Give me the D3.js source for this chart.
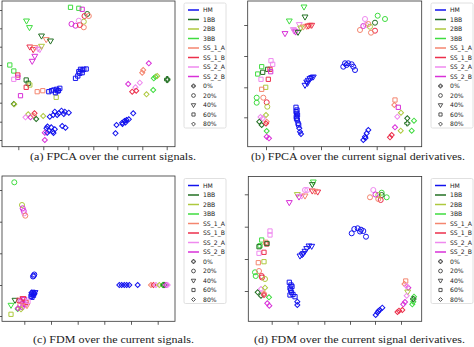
<!DOCTYPE html>
<html><head><meta charset="utf-8">
<script src="https://cdn.jsdelivr.net/npm/d3@7"></script>
<style>html,body{margin:0;padding:0;background:#fff}</style></head>
<body>
<svg id="fig" width="474" height="347"></svg>
<script>
// ---- categories / legend labels ----
const SERIES = ["HM","1BB","2BB","3BB","SS_1_A","SS_1_B","SS_2_A","SS_2_B"];
const LEVELS = ["0%","20%","40%","60%","80%"];
const COLORS = ["#1212ee","#237023","#aec93e","#3fdc3f","#f4866f","#ec2f4b","#ef8aef","#d830d8"];
const CAPTIONS = [
  "(a) FPCA over the current signals.",
  "(b) FPCA over the current signal derivatives.",
  "(c) FDM over the current signals.",
  "(d) FDM over the current signal derivatives."
];

// ---- data: [component 1, component 2, series index, degradation level index] ----
const fpcaCurrent = [
 [68.5,139.4,3,3],[76.8,138.4,3,3],[80.2,137.4,7,3],[85.2,132.7,1,1],[82.5,130.7,5,1],[86.8,130.7,4,1],
 [81.8,125,2,1],[81.8,119.4,4,1],[69.5,122.7,7,1],[73.5,121,7,1],[77.8,121.7,5,1],[76.8,126,6,1],
 [24.5,126,3,2],[27.5,119.4,3,2],[39.5,111,1,2],[44.2,107.4,4,2],[48.5,106,1,2],[27.8,100,5,2],
 [31.2,97.4,5,2],[32.8,99.4,4,2],[36.2,98,6,2],[37.8,97.4,6,2],[39.5,100.7,2,2],[32.8,90.7,7,2],[30.2,85.7,7,2],
 [7.8,81.7,3,3],[11.8,75.7,3,3],[15.8,71.7,5,3],[15.8,69.4,7,3],[11.8,67.4,6,3],[24.2,66.7,1,3],[26.2,63.4,1,3],
 [27.8,61.7,2,3],[24.2,59.4,5,3],[18.5,51,7,3],[35.2,55,4,3],[40.8,56,4,3],[54.2,49.4,2,3],
 [46.8,55,0,3],[49.5,56,0,3],[51.8,56.7,0,3],[54.5,57.4,0,3],[55.8,55.7,0,3],[57.8,58.4,0,3],[53.5,54,0,3],[56.5,56.2,0,3],
 [73.5,68.4,0,3],[75.8,70.7,0,3],[76.8,75,0,3],[78.5,77.4,0,3],[80.2,76.7,0,3],[81.8,77.4,0,3],[84.2,77.7,0,3],[77.8,73.4,0,3],[80.2,74,0,3],
 [11.8,42.7,1,4],[12.3,42.4,2,4],[26.2,32.4,2,4],[23.5,29.4,6,4],[28.5,29.4,7,4],[32.5,33.4,5,4],[31.8,31,4,4],
 [34.2,27.7,1,4],[41.2,30.7,2,4],
 [47.8,30,0,4],[51.2,31.7,0,4],[52.8,35,0,4],[55.2,31.7,0,4],[56.8,33.4,0,4],[59.5,36,0,4],[61.8,32.7,0,4],[62.8,35,0,4],[66.8,34,0,4],
 [44.5,18.4,0,4],[46.8,16,0,4],[49.2,19.4,0,4],[50.8,15,0,4],[52.8,17.4,0,4],[60.2,20.7,0,4],[63.5,19,0,4],[45.2,14,0,4],[51.5,13.7,0,4],[45.5,20.2,0,4],
 [42.8,14,7,4],[42.8,6.7,7,4],
 [113.5,13.4,0,4],[114.5,21.7,0,4],[120.2,24,0,4],[122.5,25.7,0,4],[124.5,26.7,0,4],[126.8,27.4,0,4],[131.2,33.4,0,4],[120.5,22.7,0,4],[123.5,24.2,0,4],
 [146.8,83.4,7,4],[141.2,76.7,4,4],[140.2,74,4,4],[151.8,68.4,3,4],[153.5,70,3,4],[155.2,70.7,2,4],
 [165.2,66.7,1,0],[165.2,67.6,1,0],[126.2,62.7,7,4],[133.5,59.4,6,4],[130.2,55,5,4],[134.2,56,5,4],
 [137.8,64,6,4],[151.2,56.7,3,4],[144.5,52.4,2,4]
];

const fpcaDeriv = [
 [56.3,140,3,2],[57.3,130,1,2],[41.6,126,3,2],[51.6,122.4,6,2],[55.6,120,4,2],[59,120.7,4,2],[62.3,121.7,4,2],
 [60.6,121,5,2],[64,121.7,5,2],[53,119,2,2],[37.3,113.4,7,2],[46.6,116,7,2],[48,115,7,2],[50.3,114.7,1,2],[45.6,117.4,6,2],
 [130,131,3,1],[137.3,127.7,3,1],[127.3,124,1,1],[117.3,127.7,6,1],[112.3,116.7,4,1],[115.6,120.7,7,1],
 [118.3,121.7,6,1],[120.6,122.7,4,1],[122.3,120,2,1],[127.3,116,5,1],[123.3,114,4,1],
 [23.3,86,6,3],[25,82.4,6,3],[14,80,3,3],[10,72.7,3,3],[15,74.4,1,3],[20,77.4,1,3],[22.3,77.4,5,3],[23,75,7,3],
 [13.3,67.4,6,3],[20.6,67.4,5,3],[18,59.4,2,3],[14,57.4,4,3],
 [9,49,3,1],[9,44,3,1],[15.6,49,4,1],[19,44.4,5,1],[19.6,40,2,1],
 [18.3,31.7,2,4],[15,28.4,6,4],[12.8,29.7,6,4],[11.6,25,1,4],[14,21.7,1,4],[19,25,4,4],[18.3,23.2,5,4],
 [19,15.7,3,4],[19,10,7,4],[21.3,8.4,7,4],
 [48.3,39.4,0,3],[49.3,36.7,0,3],[49,33.4,0,3],[48.6,30,0,3],[49.6,26.7,0,3],[50.3,23.4,0,3],[51,21.7,0,3],[48.8,28.2,0,3],[49.8,31.7,0,3],[48.3,35.2,0,3],
 [51.6,18.4,0,4],[52.3,15,0,4],[53.3,12.7,0,4],
 [57.3,61.7,0,2],[59,65,0,2],[60.6,66.7,0,2],[62.3,68.4,0,2],[64,69.4,0,2],[65.6,70,0,2],[59.8,63.7,0,2],
 [95.6,80,0,1],[97.3,83.4,0,1],[100.6,83.4,0,1],[104,82.4,0,1],[105.6,80,0,1],[107.3,76.7,0,1],[98.8,81.7,0,1],
 [115.6,6.7,0,4],[117.3,10,0,4],[119,13.4,0,4],[120.6,16.7,0,4],[117.8,8.7,0,4],
 [147.3,46.7,4,3],[146.6,41.7,4,4],[150.6,39.4,7,3],[153.3,34,2,4],[149.6,30,6,4],[159.6,28.4,1,4],[159.6,23.4,1,0],
 [166.3,26,3,4],[164,16,3,4],[153,16,2,4],[147.3,19.4,7,4],[144,11.7,5,4],[142.3,9.4,5,4]
];

const fdmCurrent = [
 [12.3,139,3,1],[20,116.3,2,1],[20.7,113,7,1],[21.7,110.3,7,1],[22.3,108,6,1],[23.3,105.6,4,1],
 [31.7,45.6,0,1],[32.3,46.8,0,1],[31,44.8,0,1],
 [29,25,0,3],[30,27,0,3],[31,29,0,3],[32,28,0,3],[33,29,0,2],[30,24,0,3],[31.5,26,0,3],[32.5,27.5,0,4],[29.5,28.5,0,4],
 [117.3,36.3,0,4],[119.7,36.3,0,4],[122.3,36.3,0,4],[124.7,36.3,0,4],[127.3,36.3,0,4],[135.7,36.3,0,4],
 [149,36.3,4,4],[151.5,36.3,5,4],[154,36.3,6,4],[157.3,36.3,2,4],[160.7,36.3,3,4],[162,36.3,1,0],[164,36.3,7,4],[165.7,36.3,6,4],
 [13,21.3,1,2],[9,16.3,3,2],[9,7,2,3],[15.7,12.3,3,4],
 [17,21,5,3],[19,20,7,3],[21,18,7,3],[23,17,7,3],[20,14,7,4],[22,15,6,4],[24,19,5,3],[18,16,4,3],
 [25,16,4,2],[22,22,7,2],[19,12,2,4],[16,13,7,4],[26,20,6,3],[21,23,5,2]
];

const fdmDeriv = [
 [65,139.6,3,2],[64,137,1,2],[56.7,131.3,6,1],[59,131.3,6,1],[64,130.6,5,2],[69.4,129.6,5,2],[66.7,130.3,4,2],
 [49,127,2,2],[50.7,124.6,7,2],[53.4,125.6,6,2],[56.7,125.6,4,2],[41,119,7,2],
 [125,131.3,6,1],[121.7,124,4,1],[133.4,128.6,3,1],[138.4,124,3,1],[133.4,126.3,1,1],[130,126.3,2,1],
 [132.4,121.3,5,1],[130,122.3,4,1],[127.2,126.8,7,1],
 [103.4,88,0,1],[106,92.3,0,1],[109.4,93,0,1],[112.7,91.6,0,1],[115,90.3,0,1],[117.7,84.6,0,1],[111.7,89.8,0,1],
 [51.7,65.6,0,2],[55,68,0,2],[56.7,70.3,0,2],[58.4,73,0,2],[60.7,75.6,0,2],[63.4,75.3,0,2],[53.7,66.8,0,2],
 [41,39,0,3],[42.7,36.3,0,3],[41.7,33.3,0,3],[42.4,31.3,0,3],[43.2,28.8,0,3],[44.7,26.8,0,3],[46.7,24.6,0,3],[43.7,34.8,0,3],[41.7,26.3,0,3],
 [49,19.6,0,4],[49,16.3,0,4],
 [127.4,6.3,0,4],[129.2,8.8,0,4],[131.4,11.3,0,4],[134,13.6,0,4],[130.2,10.3,0,4],
 [21.7,90.3,6,3],[21.7,86.3,6,3],[13.4,81.3,3,3],[11.7,75.6,3,3],[10.7,74.6,1,3],[17.4,79,4,3],[18.4,77.3,5,3],
 [10.7,68,6,3],[15.7,69,5,3],[10,58.6,4,3],[15.7,59.6,2,3],[18.7,77.8,1,3],
 [6.7,49,3,1],[7.4,45.3,3,1],[10.7,50.3,4,1],[13.4,45.3,5,1],[13.7,43.8,5,1],[16.7,42.3,2,1],
 [9.4,29,1,4],[12.7,25.6,1,4],[12.7,32.3,6,4],[15.7,28,4,4],[15.7,26.3,5,4],[16.7,33.6,2,4],[20.7,24,3,4],
 [19,18,7,4],[21,15.6,7,4],
 [157.4,40.3,4,3],[156.2,37.3,4,4],[160,33.6,7,4],[158.2,35.3,6,4],[159.4,29.6,2,2],[158.4,25.6,6,4],
 [165.7,24.6,3,4],[165,19.6,3,4],[164,17,3,4],[165,22.3,1,0],[155,17,7,4],[156.7,19.3,7,4],
 [150.7,10.6,5,4],[154,11.3,5,4],[149.2,9.3,5,4]
];

// tick positions (unlabelled in the original)
const xTicksA = [16.3,41.3,66.3,91.3,115.3,140.3,164.7];
const yTicksA = [136.7,118.4,100,81.7,63.4,44,25,6.7];
const xTicksB = [18.3,45.6,73.3,101.3,129,156.6];
const yTicksB = [121.7,90.7,59.4,29.4];
const xTicksC = [22.3,49,75.7,102.3,129,155.7];
const yTicksC = [131.3,99.6,68,36.3,5.3];
const xTicksD = [23.4,49.4,76,101.7,126.7,152.7];
const yTicksD = [127,94.6,62.3,30.3];

// ---- layout ----
const panels = [
  {data: fpcaCurrent, x:2,     y:1,     w:173,   h:145.7, xt:xTicksA, yt:yTicksA, cap:CAPTIONS[0], cx:113,   cy:159.5, cw:166, lx:184, ly:3},
  {data: fpcaDeriv,   x:247.7, y:1,     w:174,   h:145.7, xt:xTicksB, yt:yTicksB, cap:CAPTIONS[1], cx:358,   cy:159.5, cw:214, lx:431, ly:3},
  {data: fdmCurrent,  x:2,     y:176,   w:173,   h:145.3, xt:xTicksC, yt:yTicksC, cap:CAPTIONS[2], cx:113.5, cy:343.3, cw:161, lx:184, ly:178.5},
  {data: fdmDeriv,    x:248.3, y:176.5, w:173.4, h:144.8, xt:xTicksD, yt:yTicksD, cap:CAPTIONS[3], cx:359.5, cy:343.3, cw:211, lx:431, ly:178.5}
];

const svg = d3.select("#fig");
const SHAPES = [d3.symbolCross, d3.symbolCircle, d3.symbolTriangle, d3.symbolSquare, d3.symbolSquare];
const SIZES  = [15, 20, 15, 18, 13];
const ROT    = [0, 0, 180, 0, 45];
const sym = l => d3.symbol().type(SHAPES[l]).size(SIZES[l])();

panels.forEach(p => {
  const x = d3.scaleLinear().domain([0, p.w]).range([p.x, p.x + p.w]);
  const y = d3.scaleLinear().domain([0, p.h]).range([p.y + p.h, p.y]);
  const g = svg.append("g");

  // points
  g.append("g").selectAll("path").data(p.data).join("path")
    .attr("d", d => sym(d[3]))
    .attr("transform", d => `translate(${x(d[0])},${y(d[1])}) rotate(${ROT[d[3]]})`)
    .attr("fill", "none")
    .attr("stroke", d => COLORS[d[2]])
    .attr("stroke-width", 1);

  // axes (ticks only)
  const ax = g.append("g").attr("transform", `translate(0,${p.y + p.h})`)
    .call(d3.axisBottom(x).tickValues(p.xt).tickSize(3.5).tickFormat(""));
  const ay = g.append("g").attr("transform", `translate(${p.x},0)`)
    .call(d3.axisLeft(y).tickValues(p.yt).tickSize(3.5).tickFormat(""));
  [ax, ay].forEach(a => { a.select(".domain").remove(); a.selectAll("line").attr("stroke", "#333").attr("stroke-width", 0.8); });

  // frame
  g.append("rect").attr("x", p.x).attr("y", p.y).attr("width", p.w).attr("height", p.h)
    .attr("fill", "none").attr("stroke", "#333").attr("stroke-width", 0.8);

  // legend
  const lg = g.append("g").attr("transform", `translate(${p.lx},${p.ly})`);
  lg.append("rect").attr("x", 0).attr("y", 0).attr("width", 42).attr("height", 125).attr("rx", 1.5)
    .attr("fill", "#fff").attr("stroke", "#d8d8d8").attr("stroke-width", 0.8);
  const rowY = i => 7 + i * 9.5;
  SERIES.forEach((s, i) => {
    lg.append("line").attr("x1", 4).attr("x2", 15).attr("y1", rowY(i)).attr("y2", rowY(i))
      .attr("stroke", COLORS[i]).attr("stroke-width", 1.5);
    lg.append("text").attr("x", 19).attr("y", rowY(i) + 2.2).text(s);
  });
  LEVELS.forEach((s, j) => {
    const i = SERIES.length + j;
    lg.append("path").attr("d", sym(j))
      .attr("transform", `translate(9.5,${rowY(i)}) rotate(${ROT[j]}) scale(0.75)`)
      .attr("fill", "none").attr("stroke", "#333").attr("stroke-width", 1.1);
    lg.append("text").attr("x", 19).attr("y", rowY(i) + 2.2).text(s);
  });
  lg.selectAll("text").attr("font-family", "DejaVu Sans, sans-serif").attr("font-size", 6.1).attr("fill", "#222");

  // caption
  svg.append("text").attr("x", p.cx).attr("y", p.cy).attr("text-anchor", "middle")
    .attr("font-family", "Liberation Serif, serif").attr("font-size", 10.2)
    .attr("textLength", p.cw).attr("lengthAdjust", "spacingAndGlyphs")
    .attr("fill", "#222").text(p.cap);
});
</script>
</body></html>
